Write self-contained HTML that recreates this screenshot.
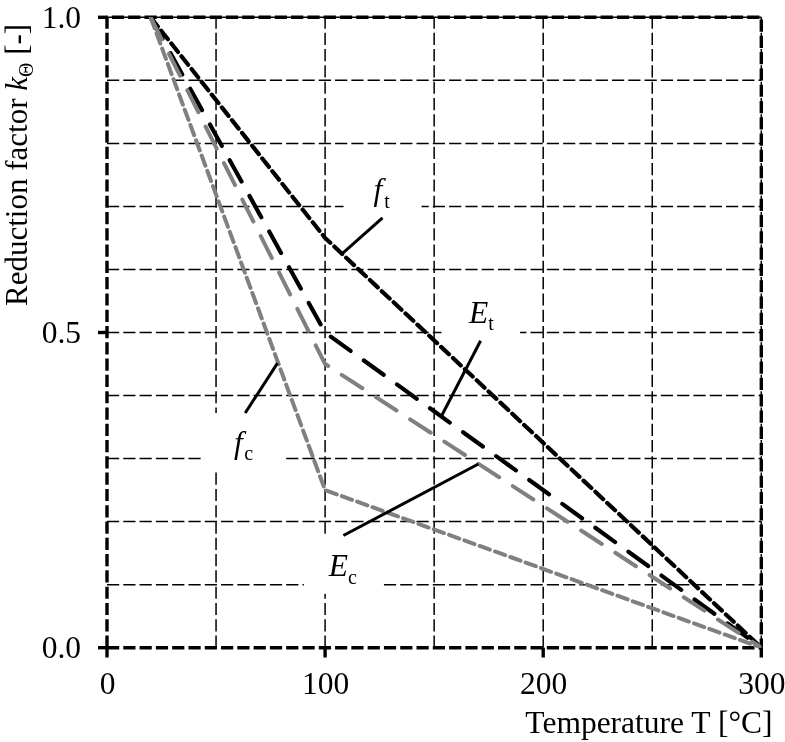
<!DOCTYPE html><html><head><meta charset="utf-8"><style>html,body{margin:0;padding:0;background:#fff}svg{display:block}text{font-family:"Liberation Serif","Times New Roman",serif;fill:#000}</style></head><body>
<svg width="785" height="742" viewBox="0 0 785 742">
<rect width="785" height="742" fill="#fff"/>
<defs><clipPath id="pa"><rect x="107.0" y="17.3" width="654.30" height="630.40"/></clipPath></defs>
<line x1="107.00" y1="584.66" x2="761.30" y2="584.66" stroke="#000" stroke-width="1.5" stroke-dasharray="12.2 4.09"/>
<line x1="107.00" y1="521.62" x2="761.30" y2="521.62" stroke="#000" stroke-width="1.5" stroke-dasharray="12.2 4.09"/>
<line x1="107.00" y1="458.58" x2="761.30" y2="458.58" stroke="#000" stroke-width="1.5" stroke-dasharray="12.2 4.09"/>
<line x1="107.00" y1="395.54" x2="761.30" y2="395.54" stroke="#000" stroke-width="1.5" stroke-dasharray="12.2 4.09"/>
<line x1="107.00" y1="332.50" x2="761.30" y2="332.50" stroke="#000" stroke-width="1.5" stroke-dasharray="12.2 4.09"/>
<line x1="107.00" y1="269.46" x2="761.30" y2="269.46" stroke="#000" stroke-width="1.5" stroke-dasharray="12.2 4.09"/>
<line x1="107.00" y1="206.42" x2="761.30" y2="206.42" stroke="#000" stroke-width="1.5" stroke-dasharray="12.2 4.09"/>
<line x1="107.00" y1="143.38" x2="761.30" y2="143.38" stroke="#000" stroke-width="1.5" stroke-dasharray="12.2 4.09"/>
<line x1="107.00" y1="80.34" x2="761.30" y2="80.34" stroke="#000" stroke-width="1.5" stroke-dasharray="12.2 4.09"/>
<line x1="107.00" y1="17.30" x2="761.30" y2="17.30" stroke="#000" stroke-width="1.5" stroke-dasharray="12.2 4.09"/>
<line x1="216.05" y1="647.70" x2="216.05" y2="17.30" stroke="#000" stroke-width="1.5" stroke-dasharray="12.2 4.09"/>
<line x1="325.10" y1="647.70" x2="325.10" y2="17.30" stroke="#000" stroke-width="1.5" stroke-dasharray="12.2 4.09"/>
<line x1="434.15" y1="647.70" x2="434.15" y2="17.30" stroke="#000" stroke-width="1.5" stroke-dasharray="12.2 4.09"/>
<line x1="543.20" y1="647.70" x2="543.20" y2="17.30" stroke="#000" stroke-width="1.5" stroke-dasharray="12.2 4.09"/>
<line x1="652.25" y1="647.70" x2="652.25" y2="17.30" stroke="#000" stroke-width="1.5" stroke-dasharray="12.2 4.09"/>
<line x1="761.30" y1="647.70" x2="761.30" y2="17.30" stroke="#000" stroke-width="1.5" stroke-dasharray="12.2 4.09"/>
<path d="M107.0 647.7V17.3H761.3V647.7" fill="none" stroke="#000" stroke-width="3.4" stroke-dasharray="12.2 4.09" stroke-linejoin="round"/>
<line x1="107.0" y1="647.7" x2="761.3" y2="647.7" stroke="#000" stroke-width="3.4" stroke-dasharray="12.2 4.09"/>
<line x1="98" y1="647.70" x2="107.0" y2="647.70" stroke="#000" stroke-width="3.4"/>
<line x1="98" y1="332.50" x2="107.0" y2="332.50" stroke="#000" stroke-width="3.4"/>
<line x1="98" y1="17.30" x2="107.0" y2="17.30" stroke="#000" stroke-width="3.4"/>
<line x1="107.00" y1="647.7" x2="107.00" y2="657.5" stroke="#000" stroke-width="3.4"/>
<line x1="325.10" y1="647.7" x2="325.10" y2="657.5" stroke="#000" stroke-width="3.4"/>
<line x1="543.20" y1="647.7" x2="543.20" y2="657.5" stroke="#000" stroke-width="3.4"/>
<line x1="761.30" y1="647.7" x2="761.30" y2="657.5" stroke="#000" stroke-width="3.4"/>
<rect x="343.5" y="160.2" width="78.1" height="58.0" fill="#fff"/>
<rect x="441.4" y="282.8" width="78.7" height="58.0" fill="#fff"/>
<rect x="204.2" y="413" width="78.4" height="58.0" fill="#fff"/>
<rect x="303.9" y="535.5" width="78.5" height="58.4" fill="#fff"/>
<path clip-path="url(#pa)" d="M150.62 17.30L325.10 237.94L761.30 647.70" fill="none" stroke="#000" stroke-width="4.2" stroke-dasharray="10.78 5.50" stroke-dashoffset="-0.87" stroke-linecap="round" stroke-linejoin="round"/>
<path clip-path="url(#pa)" d="M150.62 17.30L325.10 332.50L761.30 647.70" fill="none" stroke="#000" stroke-width="4.2" stroke-dasharray="24.40 16.40" stroke-dashoffset="-0.10" stroke-linecap="round" stroke-linejoin="round"/>
<path clip-path="url(#pa)" d="M150.62 17.30L325.10 364.02L761.30 647.70" fill="none" stroke="#808080" stroke-width="4.0" stroke-dasharray="24.60 16.20" stroke-dashoffset="-0.00" stroke-linecap="round" stroke-linejoin="round"/>
<path clip-path="url(#pa)" d="M150.62 17.30L325.10 490.10L761.30 647.70" fill="none" stroke="#808080" stroke-width="4.0" stroke-dasharray="10.88 5.40" stroke-dashoffset="-0.82" stroke-linecap="round" stroke-linejoin="round"/>
<line x1="382.5" y1="217.9" x2="342.5" y2="253.3" stroke="#000" stroke-width="3"/>
<line x1="480.6" y1="340.8" x2="441.5" y2="416.0" stroke="#000" stroke-width="3"/>
<line x1="245.2" y1="413.0" x2="277.5" y2="363.1" stroke="#000" stroke-width="3"/>
<line x1="343.4" y1="535.5" x2="478.4" y2="464.0" stroke="#000" stroke-width="3"/>
<text x="81" y="658.0" font-size="31.5" text-anchor="end">0.0</text>
<text x="81" y="342.8" font-size="31.5" text-anchor="end">0.5</text>
<text x="81" y="27.6" font-size="31.5" text-anchor="end">1.0</text>
<text x="107.5" y="693.7" font-size="31.5" text-anchor="middle">0</text>
<text x="325.6" y="693.7" font-size="31.5" text-anchor="middle">100</text>
<text x="543.7" y="693.7" font-size="31.5" text-anchor="middle">200</text>
<text x="761.8" y="693.7" font-size="31.5" text-anchor="middle">300</text>
<text x="772.5" y="733" font-size="31.5" text-anchor="end">Temperature T [°C]</text>
<text transform="translate(26.5 306) rotate(-90)" font-size="31">Reduction factor <tspan font-style="italic">k</tspan><tspan font-size="20" dy="6.8">&#920;</tspan><tspan dy="-6.8"> [-]</tspan></text>
<text x="373.5" y="200" font-size="31.5"><tspan font-style="italic">f</tspan><tspan font-size="20" dx="2" dy="7.5">t</tspan></text>
<text x="469" y="323.2" font-size="31.5"><tspan font-style="italic">E</tspan><tspan font-size="20" dx="0" dy="6.6">t</tspan></text>
<text x="234" y="453" font-size="31.5"><tspan font-style="italic">f</tspan><tspan font-size="20" dx="1.5" dy="7.4">c</tspan></text>
<text x="328.8" y="576.1" font-size="31.5"><tspan font-style="italic">E</tspan><tspan font-size="20" dx="0" dy="7.5">c</tspan></text>
</svg></body></html>
